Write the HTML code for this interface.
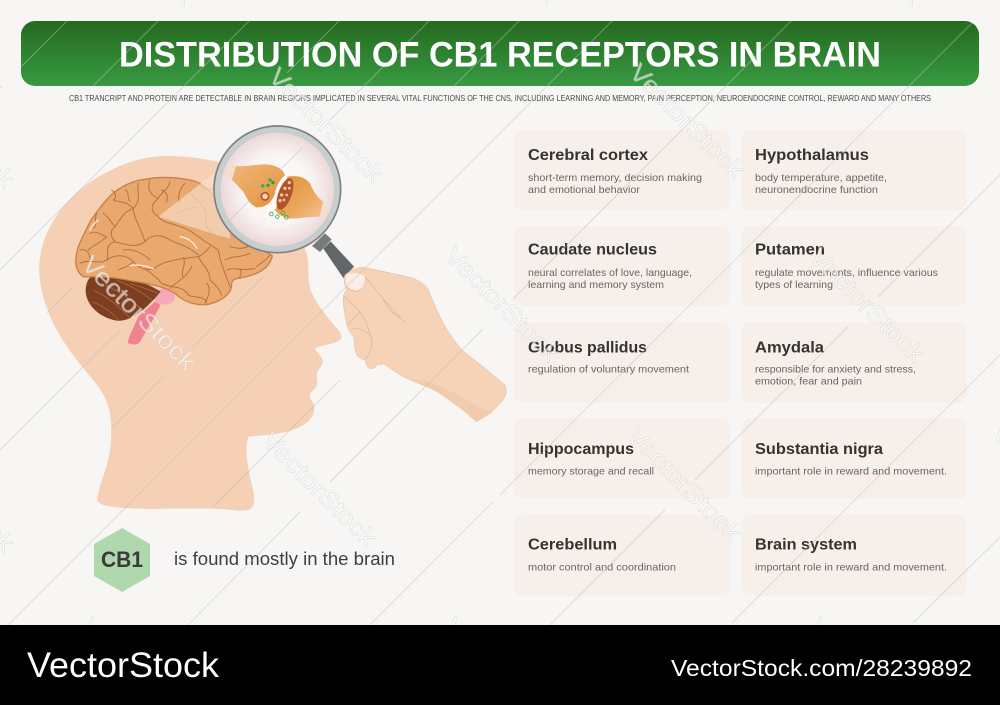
<!DOCTYPE html>
<html><head><meta charset="utf-8"><style>
html,body{margin:0;padding:0;background:#f7f6f4;width:1000px;height:705px;overflow:hidden}
svg{display:block}
text{font-family:"Liberation Sans",sans-serif}
.t{font-size:16px;font-weight:bold;fill:#333}
.d{font-size:10.5px;fill:#666}
.w{font-size:25px;fill:#fff;stroke:#d0d0d0;stroke-width:.6;opacity:.62}
</style></head><body>
<svg width="1000" height="705" viewBox="0 0 1000 705" xmlns="http://www.w3.org/2000/svg">
<defs>
<linearGradient id="g" x1="0" y1="0" x2="0" y2="1"><stop offset="0" stop-color="#25691f"/><stop offset="1" stop-color="#379a41"/></linearGradient>
<radialGradient id="lens"><stop offset="0" stop-color="#fff"/><stop offset=".62" stop-color="#faf4f4"/><stop offset="1" stop-color="#ecd9d9"/></radialGradient>
<linearGradient id="n1" x1="0" y1="0" x2="1" y2="1"><stop offset="0" stop-color="#efb57c"/><stop offset=".55" stop-color="#e9a256"/><stop offset="1" stop-color="#df8f35"/></linearGradient>
<linearGradient id="n2" x1="0" y1="0" x2="1" y2="1"><stop offset="0" stop-color="#df8f35"/><stop offset=".6" stop-color="#eba75c"/><stop offset="1" stop-color="#f1c398"/></linearGradient>
<clipPath id="hdr"><rect x="21" y="21" width="958" height="65" rx="14"/></clipPath>
<clipPath id="body"><path d="M0 86H1000V625H0Z"/></clipPath>
<path id="ln" d="M0 88L88 0M93 86L179 0M0 270L270 0M0 450L120 330M230 220L303 147M330 120L450 0M287 73L360 0M47 313L73 287M113 427L163 377M193 347L263 277M453 87L540 0M7 626L123 510M113 520L633 0M213 507L340 380M188 625L300 512M330 482L483 329M513 299L812 0M370 625L493 502M500 495L683 312M673 322L995 0M550 625L665 510M695 480L848 327M878 297L1000 175M732 623L1000 355M913 623L1000 537"/>
</defs>
<rect width="1000" height="705" fill="#f7f6f4"/>

<!-- cards -->
<g fill="#f7efe9">
<rect x="514" y="130" width="216" height="80" rx="9"/><rect x="741" y="130" width="226" height="80" rx="9"/>
<rect x="514" y="226" width="216" height="80" rx="9"/><rect x="741" y="226" width="226" height="80" rx="9"/>
<rect x="514" y="322" width="216" height="81" rx="9"/><rect x="741" y="322" width="226" height="81" rx="9"/>
<rect x="514" y="418" width="216" height="81" rx="9"/><rect x="741" y="418" width="226" height="81" rx="9"/>
<rect x="514" y="515" width="216" height="81" rx="9"/><rect x="741" y="515" width="226" height="81" rx="9"/>
</g>

<!-- header -->
<rect x="21" y="21" width="958" height="65" rx="14" fill="url(#g)"/>
<text x="119" y="66.500" font-size="35.500" fill="#fff" font-weight="bold" textLength="762" lengthAdjust="spacingAndGlyphs">DISTRIBUTION OF CB1 RECEPTORS IN BRAIN</text>
<text x="69" y="101" font-size="8.4" fill="#4a4a4a" textLength="862" lengthAdjust="spacingAndGlyphs">CB1 TRANCRIPT AND PROTEIN ARE DETECTABLE IN BRAIN REGIONS IMPLICATED IN SEVERAL VITAL FUNCTIONS OF THE CNS, INCLUDING LEARNING AND MEMORY, PAIN PERCEPTION, NEUROENDOCRINE CONTROL, REWARD AND MANY OTHERS</text>

<!-- illustration, coords in 3x zoom space -->
<g transform="translate(30 120) scale(.33333)">
<path d="M202 1140C205 1090 240 1040 243 960C246 890 240 850 205 800C170 755 110 690 75 620C40 550 25 490 28 430C35 330 100 240 190 180C270 130 340 108 410 108C470 108 530 115 600 135C700 200 800 300 830 400C840 440 830 470 842 510C855 545 885 585 925 630C945 655 930 665 900 672C880 678 865 680 855 685C860 700 880 710 878 728C875 745 858 750 860 770C863 790 865 800 845 815C835 825 840 835 850 850C860 875 845 900 820 915C780 940 720 945 655 950C645 985 650 1020 658 1060C665 1100 680 1130 668 1160C655 1178 630 1172 590 1168C500 1162 400 1170 310 1165C260 1162 205 1160 202 1140Z" fill="#f5d0b4"/>

<!-- cerebellum + stem -->
<path d="M300 670C292 675 293 665 298 650L325 590L375 545L392 555L365 605L330 665C322 675 310 676 300 670Z" fill="#f2818f"/>
<ellipse cx="403" cy="530" rx="33" ry="24" fill="#f7a9bb"/>
<path d="M168 500C160 540 195 590 260 602C305 605 345 570 392 515C340 480 250 460 190 465C178 470 170 485 168 500Z" fill="#7d3f1f"/>
<g fill="none" stroke="#a96a42" stroke-width="2.500">
<path d="M190 510C230 530 270 560 300 595M215 490C260 510 310 540 335 570M260 480C300 495 340 520 365 540M185 545C215 555 245 575 265 600M300 490C330 500 360 510 385 520"/>
</g>

<!-- brain -->
<path d="M138 415C140 375 165 340 180 305C200 275 225 240 255 215C290 190 320 180 345 178C380 170 430 170 480 180C540 190 580 260 600 335C650 365 700 385 727 408C720 440 690 462 640 472C620 476 608 475 605 490C606 520 580 540 540 552C500 560 460 545 435 520C400 498 350 490 300 482C250 470 200 470 160 470C145 460 135 440 138 415Z" fill="#e8a86e" stroke="#c97f4b" stroke-width="4"/>
<g transform="translate(120 150)" fill="none" stroke="#b86d3d" stroke-width="2.800" stroke-linecap="round" stroke-linejoin="round">
<path d="M265 140C280 160 310 160 330 170C360 175 400 215 445 240C450 275 465 310 480 350"/>
<path d="M110 270C140 250 170 255 190 275C210 300 240 305 260 290C290 270 340 265 385 260C400 255 410 240 420 230"/>
<path d="M30 280C60 265 90 285 110 270C120 250 100 225 135 215C170 225 200 235 225 215C240 195 270 190 300 210C330 225 350 225 385 255"/>
<path d="M190 115C190 145 210 165 225 215M205 40C200 70 215 90 190 115C160 125 150 150 135 170C120 180 120 200 135 215"/>
<path d="M265 140C240 125 240 105 265 85C240 75 230 55 240 30M300 35C295 60 270 70 265 85M345 40C330 55 320 80 330 100"/>
<path d="M130 90C150 100 165 90 190 115M100 130C120 145 125 160 135 170M60 190C80 180 90 195 110 200C90 220 70 225 55 240M125 60C140 70 140 85 130 90"/>
<path d="M190 275C180 290 150 295 145 300M225 295C235 305 260 320 275 340C300 355 340 345 355 375C370 385 395 375 410 395M340 262C350 285 330 305 340 320"/>
<path d="M385 260C400 290 420 300 420 330C435 345 445 350 455 375M300 355C310 340 345 330 365 290M160 240C190 235 220 250 240 270M30 240C50 235 60 250 60 270"/>
<path d="M465 270C490 255 510 265 540 250M470 300C490 290 520 305 555 295M480 230C500 235 520 240 540 225M510 300C520 310 505 320 510 325M560 290C570 280 585 275 600 255"/>
<path d="M80 130C70 150 85 165 70 175M165 60C180 65 170 85 180 95M275 60C290 65 295 80 290 95M410 340C425 355 415 380 405 400"/>
</g>
<g fill="none" stroke="#fbeede" stroke-width="4" stroke-linecap="round">
<path d="M450 350C470 352 490 365 500 385M300 437C320 432 350 438 370 445M180 330C185 318 195 308 205 300"/>
</g>

<!-- beam -->
<path d="M385 290L590 130L600 355L560 345Z" fill="#f9dfd0" opacity=".65"/>
<g fill="none" stroke="#e4b9a0" stroke-width="2.500" opacity=".8"><path d="M480 220C500 240 520 250 530 290C520 320 540 340 570 350M440 280C470 265 490 260 510 265M500 190C520 200 530 215 550 205"/></g>

<!-- handle -->
<path d="M885 340L905 358L870 396L846 378Z" fill="#787b7c"/>
<path d="M880 386L902 364L972 440L940 474Z" fill="#636668"/>

<!-- hand -->
<g transform="translate(900 360)">
<path d="M45 105C60 90 85 82 100 82C150 92 210 105 250 115C275 125 290 140 295 150C305 175 320 210 330 230C345 265 375 305 395 330C440 365 490 405 525 435C530 445 530 460 525 470C515 490 490 515 440 545C420 530 395 505 370 490C340 465 315 450 290 440C265 430 240 420 220 410C200 400 175 380 160 370C158 375 150 375 145 372C135 385 125 388 118 385C110 380 108 370 105 360C95 358 85 352 80 345C72 325 75 305 70 290C58 275 52 262 50 250C45 225 38 195 40 170C42 160 46 155 50 150C45 135 38 120 45 105Z" fill="#f6d3b7" stroke="#e3b693" stroke-width="1.500"/>
<path d="M240 415C290 420 345 440 430 490C450 505 470 515 490 515C475 525 460 535 440 545C420 530 395 505 370 490C340 465 315 450 290 440Z" fill="#f1cbae"/>
<path d="M50 105C65 95 90 98 105 110C105 125 100 140 92 148C80 155 60 152 52 140C46 128 44 115 50 105Z" fill="#fbeee6"/>
<g fill="none" stroke="#deb08c" stroke-width="2">
<path d="M105 110C125 135 145 155 160 178C180 200 200 220 215 237C195 225 170 205 160 178M45 170C60 190 80 200 90 215C75 230 60 250 50 255M90 215C105 240 120 270 125 300C128 320 120 345 105 358M65 265C85 265 110 270 120 290M92 148C80 158 60 155 52 140M215 237L230 250"/>
</g>
</g>

<!-- lens -->
<circle cx="742" cy="208" r="190" fill="#c8cdce" stroke="#7d8182" stroke-width="5"/>
<circle cx="742" cy="208" r="170" fill="url(#lens)"/>
<path d="M590 160L606 130L620 140L606 180Z" fill="#f5dccb"/>
<path d="M606 180L618 138C650 142 690 128 725 135C745 140 760 150 765 165C750 180 740 195 735 220C725 250 705 262 680 262C660 255 650 235 640 215C630 205 618 190 606 180Z" fill="url(#n1)"/>
<path d="M772 170C800 165 825 170 840 190C850 215 865 235 880 245L870 290C835 290 805 296 780 296C760 292 745 285 735 270C745 250 760 225 765 200C768 190 770 180 772 170Z" fill="url(#n2)"/>
<path d="M880 245L895 278L868 290Z" fill="#f5dccb"/>
<ellipse cx="765" cy="222" rx="20" ry="50" transform="rotate(20 765 222)" fill="#b4532a"/>
<g fill="#f3c79c"><circle cx="778" cy="188" r="5"/><circle cx="765" cy="205" r="5"/><circle cx="778" cy="205" r="4"/><circle cx="755" cy="225" r="5"/><circle cx="770" cy="225" r="4"/><circle cx="750" cy="242" r="5"/><circle cx="762" cy="240" r="4"/></g>
<circle cx="705" cy="229" r="11" fill="#f3d2b5" stroke="#b8522a" stroke-width="5"/>
<g fill="#24a336"><circle cx="699" cy="198" r="5"/><circle cx="714" cy="196" r="5"/><circle cx="720" cy="180" r="5"/><circle cx="729" cy="188" r="5"/></g>
<g fill="none" stroke="#3fb048" stroke-width="2.500"><circle cx="724" cy="282" r="5.500"/><circle cx="742" cy="290" r="5.500"/><circle cx="759" cy="279" r="5.500"/><circle cx="769" cy="292" r="5.500"/></g>
</g>

<!-- hexagon -->
<path d="M122 528L150 544V576L122 592L94 576V544Z" fill="#afd9ad"/>
<text x="101" y="567" font-size="22" font-weight="bold" fill="#3a3a3a" textLength="42" lengthAdjust="spacingAndGlyphs">CB1</text>
<text x="174" y="565" font-size="18" fill="#3f3f3f" textLength="221" lengthAdjust="spacingAndGlyphs">is found mostly in the brain</text>

<!-- card text -->
<text class="t" x="528" y="160" textLength="120" lengthAdjust="spacingAndGlyphs">Cerebral cortex</text>
<text class="d" x="528" y="181" textLength="174" lengthAdjust="spacingAndGlyphs">short-term memory, decision making</text>
<text class="d" x="528" y="193" textLength="112" lengthAdjust="spacingAndGlyphs">and emotional behavior</text>
<text class="t" x="755" y="160" textLength="114" lengthAdjust="spacingAndGlyphs">Hypothalamus</text>
<text class="d" x="755" y="181" textLength="132" lengthAdjust="spacingAndGlyphs">body temperature, appetite,</text>
<text class="d" x="755" y="193" textLength="123" lengthAdjust="spacingAndGlyphs">neuronendocrine function</text>
<text class="t" x="528" y="254.500" textLength="129" lengthAdjust="spacingAndGlyphs">Caudate nucleus</text>
<text class="d" x="528" y="276" textLength="164" lengthAdjust="spacingAndGlyphs">neural correlates of love, language,</text>
<text class="d" x="528" y="288" textLength="136" lengthAdjust="spacingAndGlyphs">learning and memory system</text>
<text class="t" x="755" y="254.500" textLength="70" lengthAdjust="spacingAndGlyphs">Putamen</text>
<text class="d" x="755" y="276" textLength="183" lengthAdjust="spacingAndGlyphs">regulate movements, influence various</text>
<text class="d" x="755" y="288" textLength="78" lengthAdjust="spacingAndGlyphs">types of learning</text>
<text class="t" x="528" y="352.500" textLength="119" lengthAdjust="spacingAndGlyphs">Globus pallidus</text>
<text class="d" x="528" y="372.500" textLength="161" lengthAdjust="spacingAndGlyphs">regulation of voluntary movement</text>
<text class="t" x="755" y="352.500" textLength="69" lengthAdjust="spacingAndGlyphs">Amydala</text>
<text class="d" x="755" y="372.500" textLength="161" lengthAdjust="spacingAndGlyphs">responsible for anxiety and stress,</text>
<text class="d" x="755" y="384.500" textLength="107" lengthAdjust="spacingAndGlyphs">emotion, fear and pain</text>
<text class="t" x="528" y="454" textLength="106" lengthAdjust="spacingAndGlyphs">Hippocampus</text>
<text class="d" x="528" y="474.500" textLength="126" lengthAdjust="spacingAndGlyphs">memory storage and recall</text>
<text class="t" x="755" y="454" textLength="128" lengthAdjust="spacingAndGlyphs">Substantia nigra</text>
<text class="d" x="755" y="474.500" textLength="192" lengthAdjust="spacingAndGlyphs">important role in reward and movement.</text>
<text class="t" x="528" y="549.500" textLength="89" lengthAdjust="spacingAndGlyphs">Cerebellum</text>
<text class="d" x="528" y="570.500" textLength="148" lengthAdjust="spacingAndGlyphs">motor control and coordination</text>
<text class="t" x="755" y="549.500" textLength="102" lengthAdjust="spacingAndGlyphs">Brain system</text>
<text class="d" x="755" y="570.500" textLength="192" lengthAdjust="spacingAndGlyphs">important role in reward and movement.</text>

<!-- watermark lines -->
<use href="#ln" clip-path="url(#hdr)" stroke="#fff" stroke-opacity=".3" stroke-width="1" fill="none"/>
<use href="#ln" clip-path="url(#body)" stroke="#b5b5b3" stroke-opacity=".42" stroke-width="1" fill="none"/>

<!-- watermark text -->
<g>
<text class="w" transform="translate(267 78) rotate(45)" textLength="150" lengthAdjust="spacingAndGlyphs">VectorStock</text>
<text class="w" transform="translate(628 74) rotate(45)" textLength="150" lengthAdjust="spacingAndGlyphs">VectorStock</text>
<text class="w" transform="translate(80 266) rotate(45)" textLength="150" lengthAdjust="spacingAndGlyphs">VectorStock</text>
<text class="w" transform="translate(443 257) rotate(45)" textLength="150" lengthAdjust="spacingAndGlyphs">VectorStock</text>
<text class="w" transform="translate(808 258) rotate(45)" textLength="150" lengthAdjust="spacingAndGlyphs">VectorStock</text>
<text class="w" transform="translate(260 442) rotate(45)" textLength="150" lengthAdjust="spacingAndGlyphs">VectorStock</text>
<text class="w" transform="translate(625 437) rotate(45)" textLength="150" lengthAdjust="spacingAndGlyphs">VectorStock</text>
<text class="w" transform="translate(990 436) rotate(45)" textLength="150" lengthAdjust="spacingAndGlyphs">VectorStock</text>
<text class="w" transform="translate(78 -100) rotate(45)" textLength="150" lengthAdjust="spacingAndGlyphs">VectorStock</text>
<text class="w" transform="translate(441 -100) rotate(45)" textLength="150" lengthAdjust="spacingAndGlyphs">VectorStock</text>
<text class="w" transform="translate(806 -100) rotate(45)" textLength="150" lengthAdjust="spacingAndGlyphs">VectorStock</text>
<text class="w" transform="translate(-102 83) rotate(45)" textLength="150" lengthAdjust="spacingAndGlyphs">VectorStock</text>
<text class="w" transform="translate(-102 447) rotate(45)" textLength="150" lengthAdjust="spacingAndGlyphs">VectorStock</text>
<text class="w" transform="translate(80 628) rotate(45)" textLength="150" lengthAdjust="spacingAndGlyphs">VectorStock</text>
<text class="w" transform="translate(443 628) rotate(45)" textLength="150" lengthAdjust="spacingAndGlyphs">VectorStock</text>
<text class="w" transform="translate(808 628) rotate(45)" textLength="150" lengthAdjust="spacingAndGlyphs">VectorStock</text>
</g>

<!-- footer -->
<rect x="0" y="625" width="1000" height="80" fill="#000"/>
<text x="27" y="677" font-size="35" fill="#fff" textLength="192" lengthAdjust="spacingAndGlyphs">VectorStock</text>
<text x="671" y="676" font-size="23" fill="#fff" textLength="301" lengthAdjust="spacingAndGlyphs">VectorStock.com/28239892</text>
</svg>
</body></html>
